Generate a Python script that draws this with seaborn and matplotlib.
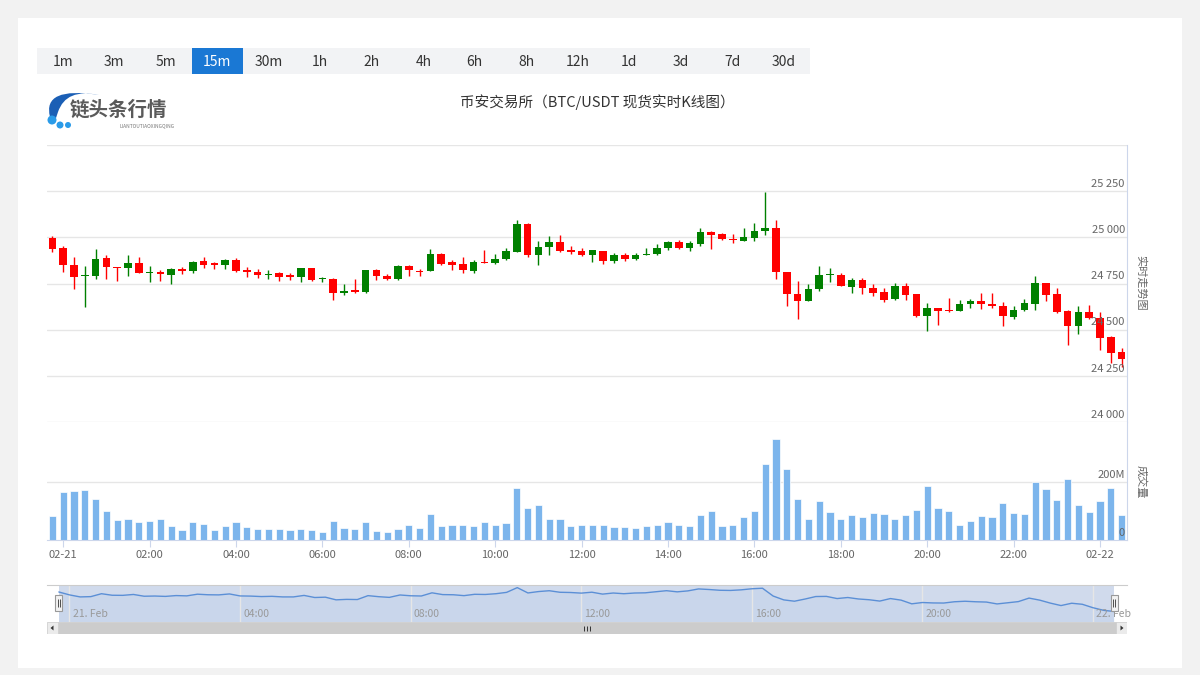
import numpy as np
import matplotlib.pyplot as plt
import matplotlib.patches as mpatches
from matplotlib.path import Path
import seaborn as sns

# ---- K线数据 (15m, 02-20 23:45 起) ----
opens = [24995, 24941, 24850, 24788, 24793, 24886, 24841, 24832, 24861, 24807,
         24814, 24798, 24830, 24816, 24873, 24859, 24848, 24877, 24821, 24814,
         24798, 24805, 24797, 24786, 24832, 24772, 24775, 24697, 24713, 24704,
         24825, 24789, 24772, 24846, 24820, 24816, 24911, 24864, 24857, 24820,
         24868, 24862, 24882, 24921, 25071, 24907, 24948, 24975, 24932, 24925,
         24902, 24925, 24873, 24905, 24884, 24902, 24909, 24941, 24976, 24941,
         24966, 25030, 25016, 24993, 24982, 24998, 25034, 25051, 24813, 24695,
         24655, 24718, 24795, 24798, 24732, 24768, 24723, 24704, 24664, 24736,
         24691, 24575, 24615, 24607, 24602, 24638, 24654, 24639, 24629, 24570,
         24607, 24641, 24750, 24691, 24602, 24522, 24593, 24561, 24460, 24379]
highs = [25007, 24955, 24891, 24846, 24937, 24905, 24841, 24905, 24891, 24846,
         24825, 24832, 24839, 24873, 24891, 24869, 24882, 24888, 24837, 24829,
         24825, 24811, 24805, 24832, 24832, 24786, 24782, 24750, 24772, 24825,
         24829, 24802, 24848, 24850, 24830, 24939, 24914, 24875, 24891, 24879,
         24932, 24911, 24941, 25093, 25075, 24980, 25007, 25012, 24955, 24944,
         24930, 24928, 24914, 24914, 24914, 24941, 24962, 24980, 24986, 24980,
         25048, 25034, 25021, 25016, 25048, 25075, 25248, 25093, 24813, 24762,
         24749, 24843, 24834, 24807, 24781, 24781, 24750, 24727, 24754, 24754,
         24695, 24647, 24620, 24670, 24659, 24668, 24700, 24700, 24652, 24629,
         24668, 24789, 24754, 24723, 24607, 24629, 24634, 24593, 24468, 24403]
lows = [24923, 24811, 24722, 24625, 24777, 24772, 24766, 24789, 24805, 24759,
        24762, 24750, 24802, 24807, 24834, 24830, 24827, 24813, 24786, 24781,
        24773, 24762, 24770, 24757, 24766, 24759, 24661, 24686, 24698, 24700,
        24768, 24768, 24768, 24793, 24788, 24816, 24848, 24825, 24805, 24807,
        24859, 24857, 24875, 24918, 24891, 24852, 24907, 24923, 24912, 24898,
        24866, 24857, 24861, 24870, 24879, 24902, 24905, 24932, 24936, 24927,
        24955, 24936, 24986, 24971, 24982, 24982, 25012, 24772, 24629, 24558,
        24655, 24709, 24759, 24736, 24700, 24691, 24682, 24652, 24659, 24661,
        24566, 24495, 24525, 24593, 24599, 24620, 24611, 24620, 24518, 24558,
        24602, 24607, 24655, 24588, 24415, 24477, 24558, 24388, 24317, 24297]
closes = [24937, 24848, 24786, 24795, 24884, 24837, 24834, 24861, 24807, 24813,
          24802, 24827, 24818, 24869, 24852, 24848, 24877, 24816, 24811, 24797,
          24804, 24786, 24786, 24832, 24768, 24778, 24697, 24711, 24706, 24825,
          24793, 24772, 24845, 24821, 24814, 24911, 24857, 24852, 24825, 24866,
          24861, 24884, 24925, 25070, 24907, 24950, 24975, 24928, 24921, 24902,
          24930, 24872, 24905, 24884, 24905, 24911, 24944, 24976, 24941, 24970,
          25030, 25012, 24989, 24984, 25002, 25035, 25051, 24813, 24695, 24655,
          24722, 24798, 24802, 24736, 24768, 24723, 24700, 24659, 24736, 24688,
          24575, 24615, 24602, 24599, 24638, 24654, 24638, 24629, 24572, 24607,
          24643, 24750, 24688, 24597, 24522, 24593, 24561, 24456, 24376, 24340]
# 成交量 (M)
volumes = [83, 165, 170, 174, 141, 99, 69, 74, 62, 65,
           72, 48, 35, 62, 55, 35, 48, 62, 45, 39,
           39, 39, 35, 39, 35, 29, 65, 42, 39, 62,
           32, 29, 39, 51, 42, 90, 48, 51, 51, 48,
           62, 51, 58, 181, 110, 119, 71, 74, 48, 51,
           51, 51, 45, 45, 41, 48, 51, 62, 51, 48,
           87, 99, 48, 51, 80, 99, 261, 350, 245, 141,
           73, 133, 96, 73, 86, 80, 93, 89, 71, 86,
           103, 186, 109, 99, 51, 67, 83, 78, 129, 93,
           90, 200, 177, 138, 209, 122, 96, 136, 181, 87]

intervals = ["1m", "3m", "5m", "15m", "30m", "1h", "2h", "4h", "6h", "8h",
             "12h", "1d", "3d", "7d", "30d"]
active_interval = "15m"
title = "币安交易所（BTC/USDT 现货实时K线图）"

x_tick_pos = [1, 9, 17, 25, 33, 41, 49, 57, 65, 73, 81, 89, 97]
x_tick_labels = ["02-21", "02:00", "04:00", "06:00", "08:00", "10:00", "12:00",
                 "14:00", "16:00", "18:00", "20:00", "22:00", "02-22"]
nav_tick_pos = [1, 17, 33, 49, 65, 81, 97]
nav_tick_labels = ["21. Feb", "04:00", "08:00", "12:00", "16:00", "20:00", "22. Feb"]
price_ticks = [24000, 24250, 24500, 24750, 25000, 25250]
vol_ticks = [0, 200]

sns.set_style("white")
plt.rcParams['font.family'] = ['Noto Sans CJK SC', 'DejaVu Sans']

W, H = 1200, 675
fig = plt.figure(figsize=(12, 6.75), dpi=100, facecolor='#f2f2f2')


def box(x0, y0, x1, y1):
    # 像素坐标 (左上为原点) -> figure 坐标
    return [x0 / W, 1 - y1 / H, (x1 - x0) / W, (y1 - y0) / H]


# ---- 背景装饰层 ----
deco = fig.add_axes([0, 0, 1, 1], zorder=0)
deco.set_xlim(0, W)
deco.set_ylim(H, 0)
deco.axis('off')
deco.add_patch(mpatches.Rectangle((18, 18), 1164, 650, facecolor='white', lw=0))

bw = 51.5
for i, lab in enumerate(intervals):
    active = lab == active_interval
    deco.add_patch(mpatches.Rectangle((37 + i * bw, 48), bw, 26, lw=0,
                                      facecolor='#1a78d4' if active else '#f2f3f5'))
    deco.text(37 + i * bw + bw / 2, 61.5, lab, ha='center', va='center', fontsize=10,
              color='white' if active else '#333333')

# logo
verts = [(50, 117), (42, 86), (99, 95), (99, 95), (66, 88), (58, 112), (56, 118), (50, 117)]
codes = [Path.MOVETO, Path.CURVE3, Path.CURVE3, Path.LINETO, Path.CURVE3, Path.CURVE3,
         Path.LINETO, Path.CLOSEPOLY]
deco.add_patch(mpatches.PathPatch(Path(verts, codes), facecolor='#1b5fb5', lw=0))
for cx, cy, r in [(52, 120, 4.5), (60, 125, 3.5), (68, 125, 3)]:
    deco.add_patch(mpatches.Circle((cx, cy), r, facecolor='#2a9be8', lw=0))
deco.text(70, 110, "链头条行情", fontsize=14, fontweight='bold', color='#5a5a5a', va='center')
deco.text(120, 126, "LIANTOUTIAOXINGQING", fontsize=3.5, color='#777777', va='center')

deco.text(597, 102, title, ha='center', va='center', fontsize=10.5, color='#333333')
deco.text(1141, 283, "实时走势图", rotation=270, ha='center', va='center', fontsize=8, color='#666666')
deco.text(1141, 482, "成交量", rotation=270, ha='center', va='center', fontsize=8, color='#666666')

x = np.arange(len(opens))
o = np.array(opens)
c = np.array(closes)
up = c >= o
colors = np.where(up, '#008000', '#ff0000')

# ---- K线 ----
ax_p = fig.add_axes(box(47, 145, 1127, 422), zorder=1)
ax_p.vlines(x, lows, highs, colors=colors, lw=1)
body = np.maximum(np.abs(c - o), 3)
ax_p.bar(x, body, bottom=np.minimum(o, c), width=0.72, color=colors, linewidth=0, zorder=3)
ax_p.set_xlim(-0.5, 99.5)
ax_p.set_ylim(24000, 25500)
ax_p.set_yticks(range(24000, 25501, 250))
ax_p.set_xticks([])
ax_p.grid(axis='y', color='#e6e6e6', lw=1)
ax_p.tick_params(left=False, labelleft=False)
for s in ['top', 'left', 'bottom']:
    ax_p.spines[s].set_visible(False)
ax_p.spines['right'].set_color('#ccd6eb')
for v in price_ticks:
    ax_p.text(0.998, v + 12, f"{v // 1000} {v % 1000:03d}", transform=ax_p.get_yaxis_transform(),
              ha='right', va='bottom', fontsize=8, color='#666666', zorder=5)

# ---- 成交量 ----
ax_v = fig.add_axes(box(47, 422, 1127, 540), zorder=1)
sns.barplot(x=x, y=volumes, ax=ax_v, color='#7cb5ec', width=0.68, native_scale=True,
            edgecolor='white', linewidth=0.5, saturation=1)
ax_v.set_xlim(-0.5, 99.5)
ax_v.set_ylim(0, 407)
ax_v.set_yticks([200])
ax_v.grid(axis='y', color='#e6e6e6', lw=1)
ax_v.set_axisbelow(True)
ax_v.set_xlabel('')
ax_v.set_ylabel('')
ax_v.tick_params(left=False, labelleft=False)
ax_v.set_xticks(x_tick_pos)
ax_v.set_xticklabels(x_tick_labels)
ax_v.tick_params(axis='x', bottom=True, length=5, color='#ccd6eb', labelcolor='#666666',
                 labelsize=8, pad=2)
for s in ['top', 'left']:
    ax_v.spines[s].set_visible(False)
ax_v.spines['right'].set_color('#ccd6eb')
ax_v.spines['bottom'].set_color('#ccd6eb')
for v in vol_ticks:
    ax_v.text(0.998, v + 8, "0" if v == 0 else f"{v}M", transform=ax_v.get_yaxis_transform(),
              ha='right', va='bottom', fontsize=8, color='#666666', zorder=5)

# ---- 导航条 ----
ax_n = fig.add_axes(box(47, 585, 1127, 622), zorder=1)
ax_n.set_xlim(-1.11, 100.19)
ax_n.set_ylim(24020, 25150)
for p in nav_tick_pos:
    ax_n.axvline(p, color='#e6e6e6', lw=1)
ax_n.fill_between(x, closes, 24020, color='#7cb5ec', alpha=0.08, lw=0)
sns.lineplot(x=x, y=closes, ax=ax_n, color='#5b8fd6', lw=1)
ax_n.axvspan(x[0], x[-1], color=(102 / 255, 133 / 255, 194 / 255), alpha=0.3, lw=0)
for p, lab in zip(nav_tick_pos, nav_tick_labels):
    ax_n.text(p + 0.3, 0.22, lab, transform=ax_n.get_xaxis_transform(), fontsize=7.5,
              color='#999999', ha='left', va='center', clip_on=False)
for hx in [x[0], x[-1]]:
    ax_n.add_patch(mpatches.Rectangle((hx - 0.33, 0.3), 0.66, 0.42, transform=ax_n.get_xaxis_transform(),
                                      facecolor='#f2f2f2', edgecolor='#999999', lw=0.8, clip_on=False, zorder=5))
    ax_n.vlines([hx - 0.1, hx + 0.1], 0.4, 0.62, transform=ax_n.get_xaxis_transform(), colors='#333333',
                lw=0.6, clip_on=False, zorder=6)
ax_n.set_xticks([])
ax_n.set_yticks([])
ax_n.set_xlabel('')
ax_n.set_ylabel('')
for s in ['left', 'right', 'bottom']:
    ax_n.spines[s].set_visible(False)
ax_n.spines['top'].set_color('#cccccc')

# ---- 滚动条 ----
ax_s = fig.add_axes(box(47, 622, 1127, 634), zorder=1)
ax_s.set_xlim(0, 1080)
ax_s.set_ylim(0, 12)
ax_s.axis('off')
ax_s.add_patch(mpatches.Rectangle((0, 0), 1080, 12, facecolor='#f2f2f2', lw=0))
ax_s.add_patch(mpatches.Rectangle((11, 0.3), 1058, 11.4, facecolor='#cccccc', edgecolor='#cccccc', lw=0.5))
for bx in [0, 1069]:
    ax_s.add_patch(mpatches.Rectangle((bx, 0.3), 11, 11.4, facecolor='#ebebeb', edgecolor='#cccccc', lw=0.5))
ax_s.add_patch(mpatches.Polygon([(3.5, 6), (6.5, 8.5), (6.5, 3.5)], facecolor='#333333', lw=0))
ax_s.add_patch(mpatches.Polygon([(1076.5, 6), (1073.5, 8.5), (1073.5, 3.5)], facecolor='#333333', lw=0))
ax_s.vlines([537, 540, 543], 3.5, 8.5, colors='#333333', lw=0.7)

fig.savefig("out.png", dpi=100, facecolor=fig.get_facecolor())
